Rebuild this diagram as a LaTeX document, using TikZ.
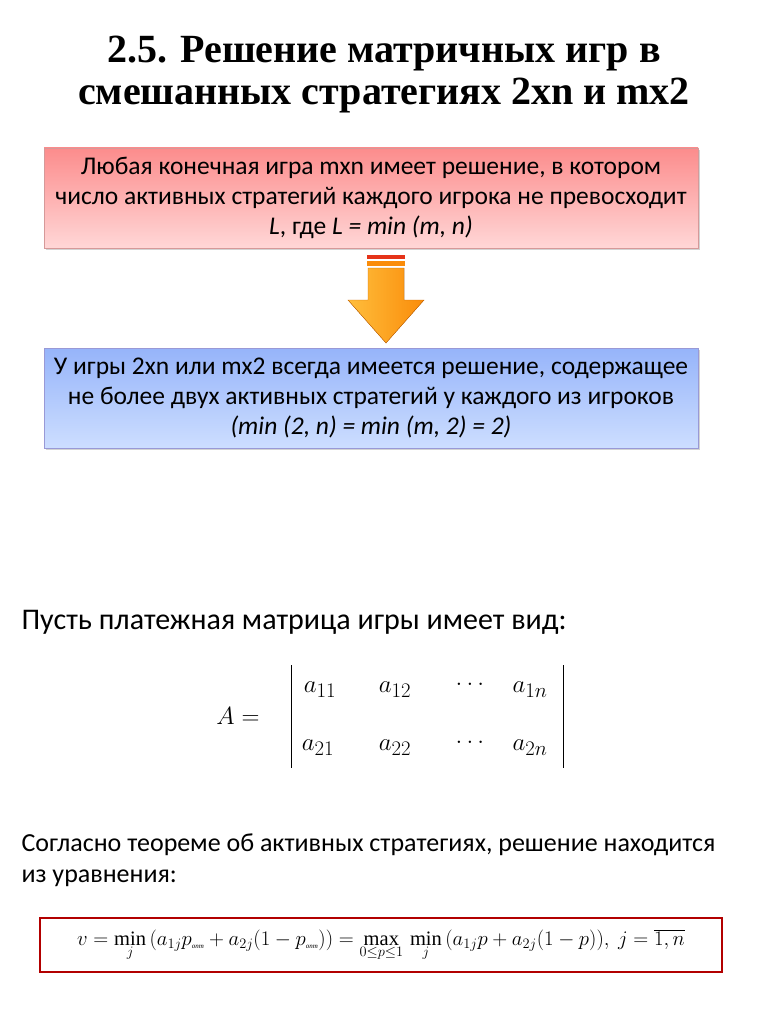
\documentclass[tikz,border=0pt]{standalone}
\usepackage{fontspec}
\setmainfont{Liberation Serif}
\newfontfamily\bodyfont{Carlito}
\usetikzlibrary{shadows}
\definecolor{redtop}{RGB}{252,140,140}
\definecolor{redbot}{RGB}{255,215,215}
\definecolor{bluetop}{RGB}{150,180,250}
\definecolor{bluebot}{RGB}{205,222,255}
\definecolor{orangeA}{RGB}{255,190,60}
\definecolor{orangeB}{RGB}{250,140,10}
\begin{document}
\begin{tikzpicture}[x=1pt,y=-1pt,
  box/.style={draw=#1!60!black!40,line width=0.6pt,minimum width=654pt,minimum height=100pt,align=center,font=\bodyfont\fontsize{25.5}{30}\selectfont,drop shadow={opacity=0.35}},
  body/.style={font=\bodyfont\fontsize{30}{34}\selectfont,anchor=west,align=left},
  mt/.style={font=\fontsize{28}{30}\selectfont}]
\useasboundingbox (0,0) rectangle (768,1024);
\node[font=\bfseries\fontsize{40}{42}\selectfont,align=center] (title) at (384,75) {2.5. Решение матричных игр в\\смешанных стратегиях 2xn и mx2};
\node[box=red,top color=redtop,bottom color=redbot] (r) at (371,198) {Любая конечная игра mxn имеет решение, в котором\\число активных стратегий каждого игрока не превосходит\\\textit{L}, где \textit{L = min (m, n)}};
\node[box=blue,top color=bluetop,bottom color=bluebot] (b) at (371,398) {У игры 2xn или mx2 всегда имеется решение, содержащее\\не более двух активных стратегий у каждого из игроков\\\textit{(min (2, n) = min (m, 2) = 2)}};
\fill[red!60!brown] (367,255) rectangle (405,259);
\fill[orangeB] (367,261) rectangle (405,266);
\fill[left color=orangeA,right color=orangeB,draw=orange!80!black,line width=0.4pt] (368,268) -- (404,268) -- (404,300) -- (424,300) -- (386,343) -- (348,300) -- (368,300) -- cycle;
\node[body] (p) at (18,622) {Пусть платежная матрица игры имеет вид:};
\node[font=\itshape\fontsize{36}{36}\selectfont] (A) at (238,716) {$A=$};
\draw[line width=1pt] (291,665) -- (291,768) (563,665) -- (563,768);
\node[mt] (a11) at (320,690) {$a_{11}$};
\node[mt] (a12) at (395,690) {$a_{12}$};
\node[mt] (d1) at (470,684) {$\ldots$};
\node[mt] (a1n) at (530,690) {$a_{1n}$};
\node[mt] (a21) at (318,748) {$a_{21}$};
\node[mt] (a22) at (395,748) {$a_{22}$};
\node[mt] (d2) at (470,742) {$\ldots$};
\node[mt] (a2n) at (530,748) {$a_{2n}$};
\node[body,font=\bodyfont\fontsize{26}{31}\selectfont] (s) at (18,860) {Согласно теореме об активных стратегиях, решение находится\\из уравнения:};
\node[draw=red!70!black,line width=1.2pt,minimum width=682pt,minimum height=54pt,font=\fontsize{20.5}{22}\selectfont] (f) at (381,945)
 {$v=\min\limits_{j}\,(a_{1j}p_{\mbox{\scriptsize\itshape onm}}+a_{2j}(1-p_{\mbox{\scriptsize\itshape onm}}))=\max\limits_{0\le p\le 1}\,\min\limits_{j}\,(a_{1j}p+a_{2j}(1-p)),\ j=\overline{1,n}$};
\end{tikzpicture}
\end{document}
